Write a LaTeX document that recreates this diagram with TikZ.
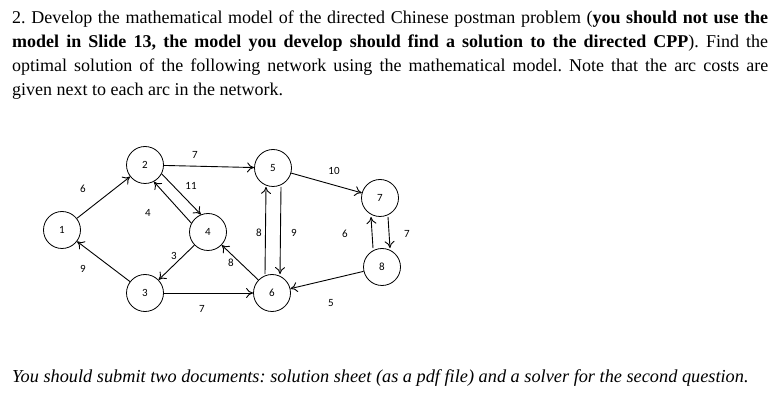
\documentclass[tikz,border=0pt]{standalone}
\usepackage{fontspec}
\setmainfont{Liberation Serif}
\newfontfamily\lab{Carlito}
\usetikzlibrary{arrows.meta}
\frenchspacing
\begin{document}
\begin{tikzpicture}[x=1pt,y=-1pt,
  v/.style={circle,draw,line width=0.8pt,minimum size=37pt,inner sep=0pt,font=\lab\fontsize{11}{11}\selectfont},
  e/.style={line width=0.9pt,-{To[length=7pt,width=10pt]}},
  w/.style={font=\lab\fontsize{11}{11}\selectfont},
  txt/.style={anchor=base west,inner sep=0pt,font=\fontsize{18}{20}\selectfont}]
\useasboundingbox (0,0) rectangle (782,403);
\node[txt] (l1) at (12,24) {\makebox[756pt][s]{2. Develop the mathematical model of the directed Chinese postman problem (\textbf{you should not use the}}};
\node[txt] (l2) at (12,48) {\makebox[756pt][s]{\textbf{model in Slide 13, the model you develop should find a solution to the directed CPP}). Find the}};
\node[txt] (l3) at (12,72) {\makebox[756pt][s]{optimal solution of the following network using the mathematical model. Note that the arc costs are}};
\node[txt] (l4) at (12,96) {given next to each arc in the network.};
\node[txt,font=\itshape\fontsize{18.3}{20}\selectfont] (l5) at (12,382) {You should submit two documents: solution sheet (as a pdf file) and a solver for the second question.};
\node[v] (n1) at (62,230) {1};
\node[v] (n2) at (145,165) {2};
\node[v] (n3) at (145,293) {3};
\node[v] (n4) at (208,232) {4};
\node[v] (n5) at (273,168) {5};
\node[v] (n6) at (272,293) {6};
\node[v] (n7) at (380,198) {7};
\node[v] (n8) at (382,267) {8};
\draw[e] (n1) -- (n2);
\draw[e] (n3) -- (n1);
\draw[e] (n2) -- (n5);
\draw[e] (n2.-28) -- (n4.112);
\draw[e] (n4.152) -- (n2.-62);
\draw[e] (n4) -- (n3);
\draw[e] (n3) -- (n6);
\draw[e] (n6) -- (n4);
\draw[e] ([xshift=-7pt]n6.north) -- ([xshift=-7pt]n5.south);
\draw[e] ([xshift=8pt]n5.south) -- ([xshift=8pt]n6.north);
\draw[e] (n5) -- (n7);
\draw[e] ([xshift=8pt]n7.south) -- ([xshift=8pt]n8.north);
\draw[e] ([xshift=-9pt]n8.north) -- ([xshift=-9pt]n7.south);
\draw[e] (n8) -- (n6);
\node[w] (a) at (83,189) {6};
\node[w] (b) at (83,269) {9};
\node[w] (c) at (195,155) {7};
\node[w] (d) at (191,186) {11};
\node[w] (f) at (148,213) {4};
\node[w] (g) at (174,256) {3};
\node[w] (h) at (231,263) {8};
\node[w] (i) at (202,309) {7};
\node[w] (j) at (259,233) {8};
\node[w] (k) at (294,233) {9};
\node[w] (m) at (334,171) {10};
\node[w] (o) at (345,234) {6};
\node[w] (p) at (407,234) {7};
\node[w] (q) at (331,303) {5};
\end{tikzpicture}
\end{document}
